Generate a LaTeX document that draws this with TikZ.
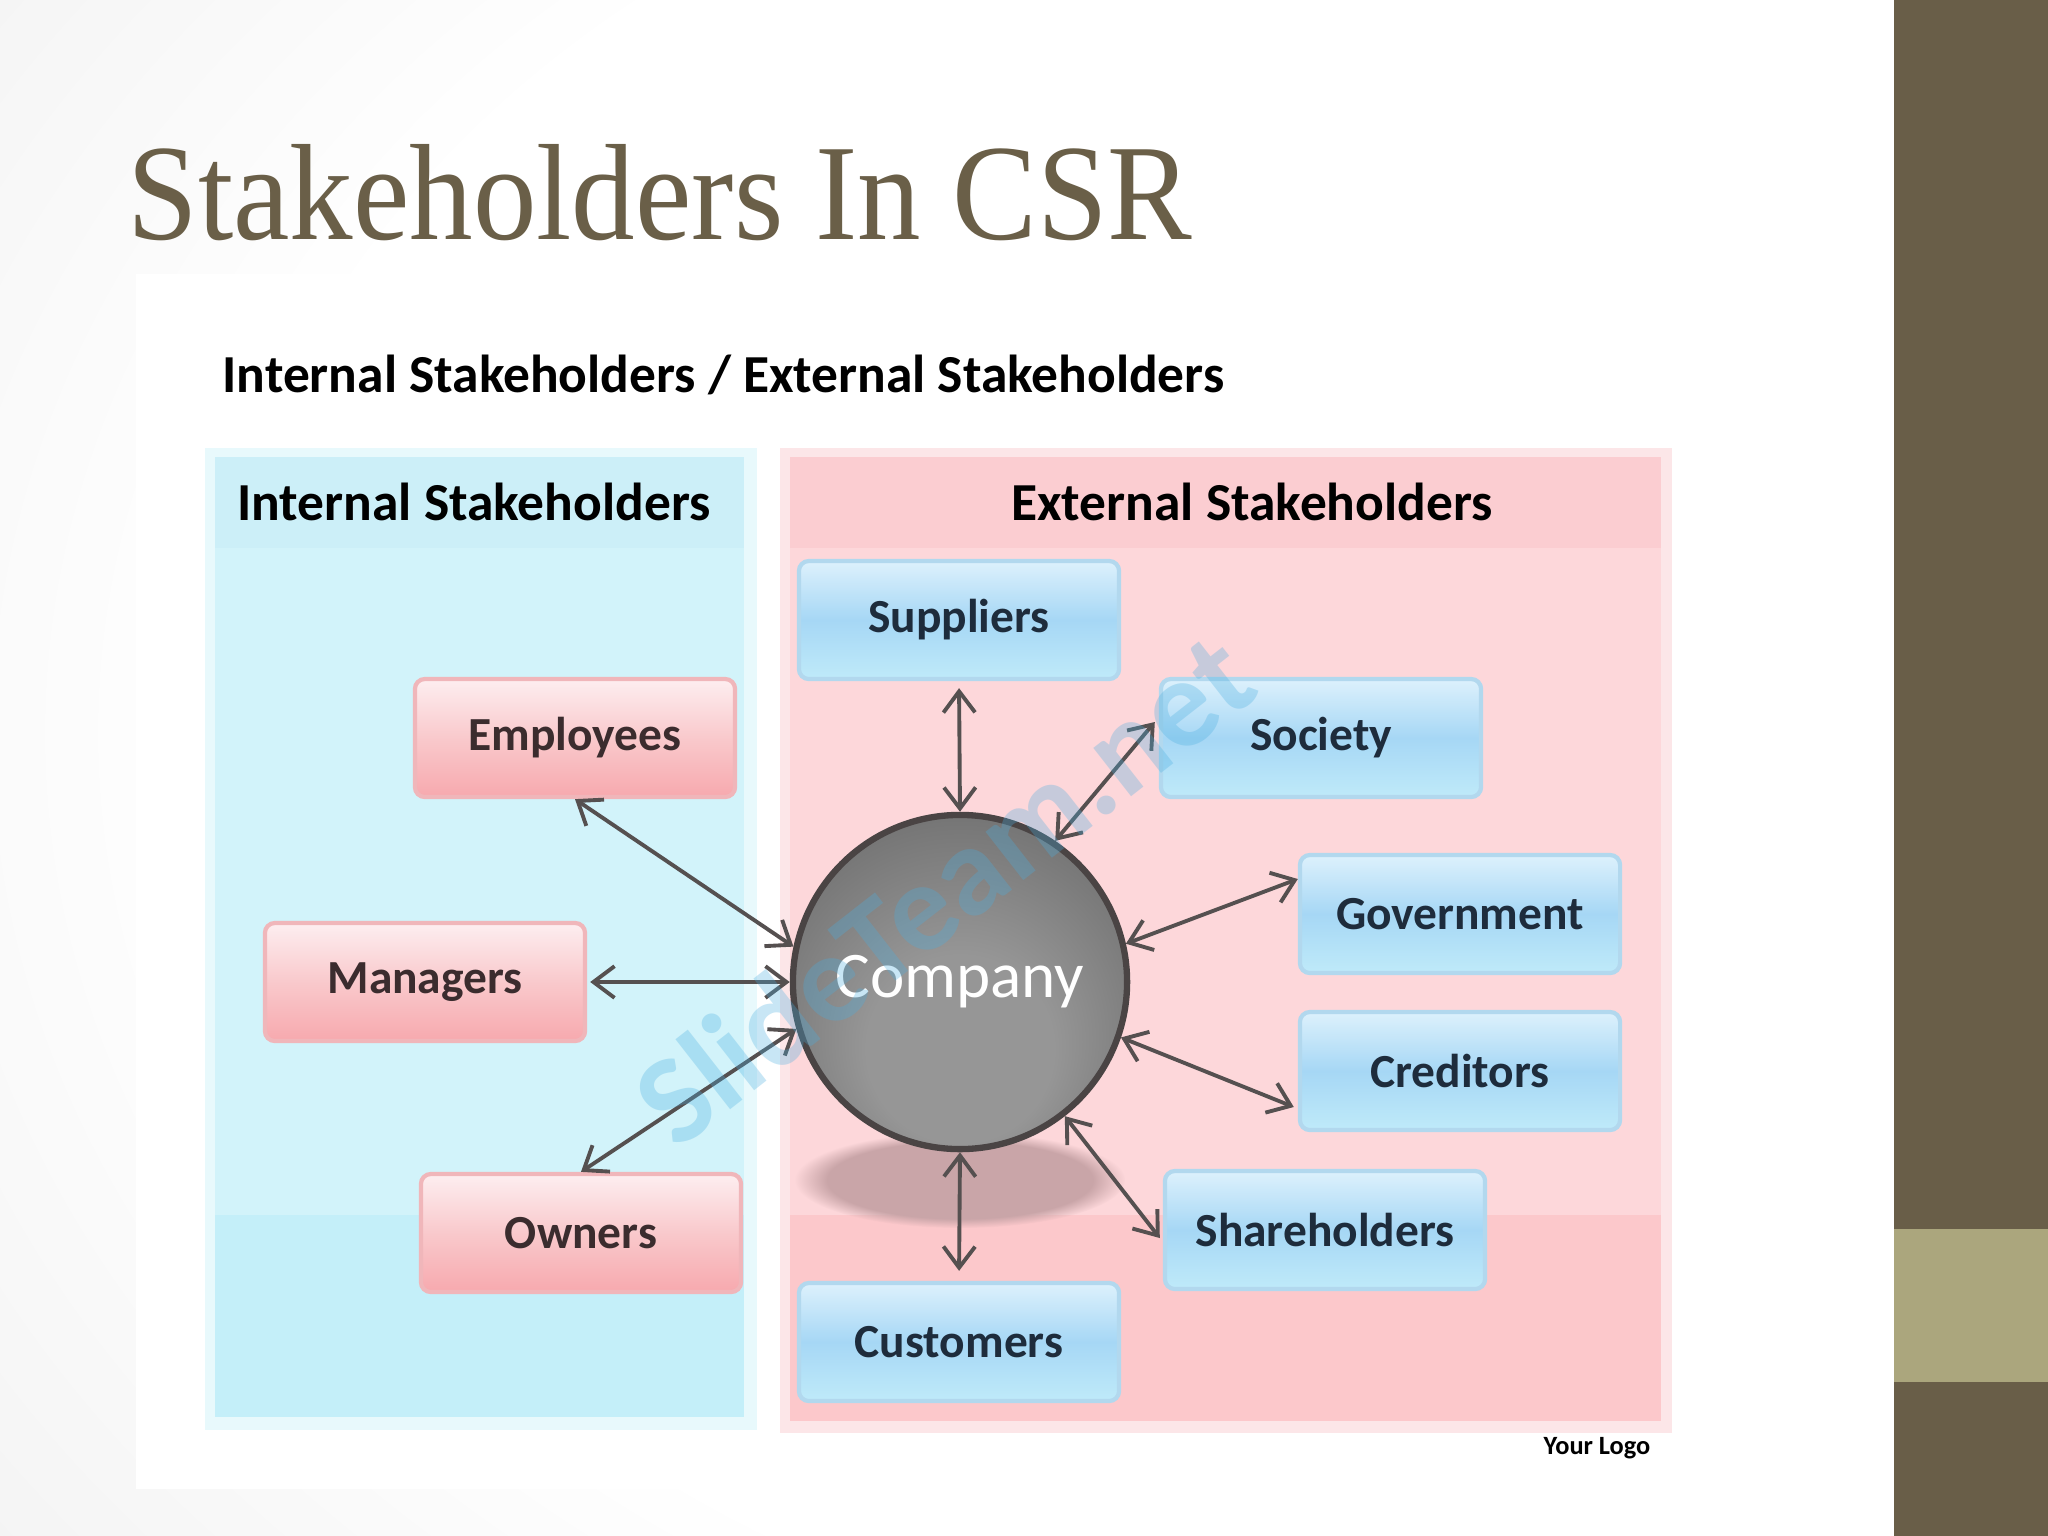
\documentclass[tikz,border=0pt]{standalone}
\usepackage{fontspec}
\setmainfont{Liberation Serif}
\newfontfamily\calfont{Carlito}
\usetikzlibrary{arrows.meta,calc,fadings}
\definecolor{barD}{HTML}{695E48}
\definecolor{barL}{HTML}{ABA67D}
\definecolor{titleC}{HTML}{6A5F48}
\definecolor{bgE}{HTML}{E9E9E9}
\definecolor{bgE2}{HTML}{D6D6D6}
\definecolor{cyanO}{HTML}{E8F9FC}
\definecolor{cyanB}{HTML}{D2F3FA}
\definecolor{cyanH}{HTML}{CCEFF8}
\definecolor{cyanL}{HTML}{C4EFF9}
\definecolor{pinkO}{HTML}{FCE6E8}
\definecolor{pinkB}{HTML}{FDD7DA}
\definecolor{pinkH}{HTML}{FBCDD1}
\definecolor{pinkL}{HTML}{FCC8CB}
\definecolor{pbT}{HTML}{FDEEF0}
\definecolor{pbM}{HTML}{F9C9CC}
\definecolor{pbB}{HTML}{F7A9AE}
\definecolor{pbE}{HTML}{F0B6BA}
\definecolor{pbText}{HTML}{3B2C2E}
\definecolor{bbT}{HTML}{DDF1FC}
\definecolor{bbM}{HTML}{A6D7F5}
\definecolor{bbB}{HTML}{BFEAF9}
\definecolor{bbE}{HTML}{B2D8EE}
\definecolor{bbText}{HTML}{1E2C3C}
\definecolor{sphC}{HTML}{969696}
\definecolor{sphM}{HTML}{666666}
\definecolor{sphE}{HTML}{3A3A3A}
\definecolor{sphO}{HTML}{4A4444}
\definecolor{shadowC}{HTML}{C9A5A8}
\definecolor{arrowC}{HTML}{555050}
\definecolor{wmC}{HTML}{4AAEE0}
\pgfdeclareradialshading{bgvig}{\pgfpoint{18bp}{2bp}}{color(0bp)=(white); color(30bp)=(white); color(55bp)=(bgE); color(78bp)=(bgE2)}
\pgfdeclareradialshading{sphere}{\pgfpoint{0bp}{-14bp}}{color(0bp)=(sphC); color(14bp)=(sphC); color(38bp)=(sphM); color(50bp)=(sphE)}
\tikzset{
  box/.style={rounded corners=0.1cm, minimum width=3.2cm, minimum height=1.18cm, inner sep=0pt,
    font=\calfont\bfseries\fontsize{13.5}{15}\selectfont, line width=1.2pt},
  pinkbox/.style={box, draw=pbE, top color=pbT, bottom color=pbB, middle color=pbM, text=pbText},
  bluebox/.style={box, draw=bbE, top color=bbT, bottom color=bbB, middle color=bbM, text=bbText},
  link/.style={draw=arrowC, line width=1.1pt,
    {Straight Barb[length=6pt,width=9pt,line width=1.1pt]}-{Straight Barb[length=6pt,width=9pt,line width=1.1pt]}},
  panelhead/.style={font=\calfont\bfseries\fontsize{15.2}{18}\selectfont, anchor=base, inner sep=0pt, text=black}
}
\begin{document}
\begin{tikzpicture}[x=0.01cm,y=-0.01cm]
\useasboundingbox (0,0) rectangle (2048,1536);
% slide background
\shade[shading=bgvig] (0,0) rectangle (1894,1536);
\fill[barD] (1894,0) rectangle (2048,1536);
\fill[barL] (1894,1229) rectangle (2048,1382);
% title
\node[anchor=base west, inner sep=0pt, text=titleC] (title) at (127,239)
  {\resizebox{10.64cm}{0.95cm}{Stakeholders In CSR}};
% diagram picture
\fill[white] (136,274) rectangle (1757,1489);
\node[panelhead, anchor=base west] (head) at (222,392) {Internal Stakeholders / External Stakeholders};
% internal panel
\fill[cyanO] (205,448) rectangle (757,1430);
\fill[cyanB] (215,457) rectangle (744,1417);
\fill[cyanH] (215,457) rectangle (744,548);
\fill[cyanL] (215,1215) rectangle (744,1417);
\node[panelhead] (inthead) at (474,520) {Internal Stakeholders};
% external panel
\fill[pinkO] (780,448) rectangle (1672,1433);
\fill[pinkB] (790,457) rectangle (1661,1421);
\fill[pinkH] (790,457) rectangle (1661,548);
\fill[pinkL] (790,1215) rectangle (1661,1421);
\node[panelhead] (exthead) at (1252,520) {External Stakeholders};
% shadow of sphere
\fill[shadowC, path fading=circle with fuzzy edge 20 percent] (960,1180) ellipse (165 and 48);
% company
\node[circle, minimum size=3.34cm, inner sep=0pt, shade, shading=sphere, draw=sphO, line width=1.8pt,
  text=white, font=\calfont\fontsize{18.5}{20}\selectfont] (comp) at (960,982) {Company};
% internal boxes
\node[pinkbox] (emp) at (575,738) {Employees};
\node[pinkbox] (mgr) at (425,982) {Managers};
\node[pinkbox] (own) at (581,1233) {Owners};
% external boxes
\node[bluebox] (sup) at (959,620) {Suppliers};
\node[bluebox] (soc) at (1321,738) {Society};
\node[bluebox] (gov) at (1460,914) {Government};
\node[bluebox] (cred) at (1460,1071) {Creditors};
\node[bluebox] (sh) at (1325,1230) {Shareholders};
\node[bluebox] (cust) at (959,1342) {Customers};
% connectors
\draw[link, shorten <=0.07cm] (sup.south) -- (comp.north);
\draw[link] (comp.56) -- ($(soc.west)+(-4,-16)$);
\draw[link] (comp.13) -- ($(gov.west)+(0,-35)$);
\draw[link] (comp.-19) -- ($(cred.west)+(-4,36)$);
\draw[link] (comp.-52) -- ($(sh.west)+(-3,8)$);
\draw[link, shorten >=0.1cm] (comp.south) -- (cust.north);
\draw[link] (comp.168) -- (emp.south);
\draw[link, shorten >=0.03cm] (comp.west) -- (mgr.east);
\draw[link] (comp.196) -- (own.north);
% watermark
\node[rotate=38, font=\calfont\bfseries\fontsize{36}{36}\selectfont, text=wmC, opacity=0.3, inner sep=0pt] (wm) at (943,888) {SlideTeam.net};
% logo
\node[font=\calfont\bfseries\fontsize{7.5}{9}\selectfont, text=black] (logo) at (1597,1448) {Your Logo};
\end{tikzpicture}
\end{document}
